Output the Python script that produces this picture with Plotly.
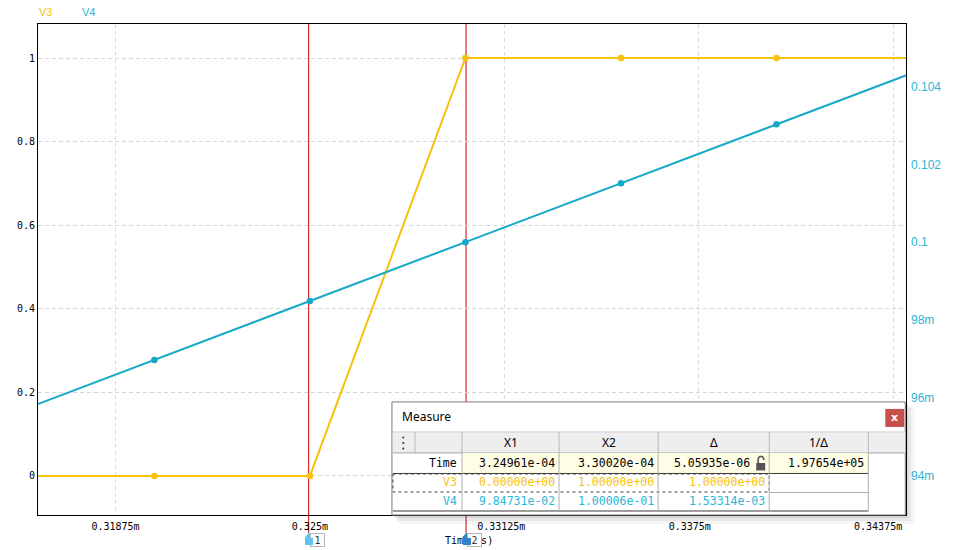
import plotly.graph_objects as go

# ---------------- data ----------------
time_s = [0.315e-3, 0.320e-3, 0.325e-3, 0.330e-3, 0.335e-3, 0.340e-3, 0.345e-3]
v3 = [0, 0, 0, 1, 1, 1, 1]
v4 = [0.0954545, 0.0969697, 0.0984848, 0.1000000, 0.1015152, 0.1030303, 0.1045455]

x_tickvals = [0.31875e-3, 0.325e-3, 0.33125e-3, 0.3375e-3, 0.34375e-3]
x_ticktext = ["0.31875m", "0.325m", "0.33125m\u00a0", "0.3375m\u00a0\u00a0\u00a0", "0.34375m\u00a0\u00a0\u00a0\u00a0\u00a0"]
y1_tickvals = [0, 0.2, 0.4, 0.6, 0.8, 1]
y1_ticktext = ["0", "0.2", "0.4", "0.6", "0.8", "1"]
y2_tickvals = [0.094, 0.096, 0.098, 0.100, 0.102, 0.104]
y2_ticktext = ["94m", "96m", "98m", "0.1", "0.102", "0.104"]

cursor_x = [3.24961e-4, 3.30020e-4]
cursor_labels = ["1", "2"]

meas_header = ["X1", "X2", "\u0394", "1/\u0394"]
meas_rows = ["Time", "V3", "V4"]
meas_time = ["3.24961e-04", "3.30020e-04", "5.05935e-06", "1.97654e+05"]
meas_v3 = ["0.00000e+00", "1.00000e+00", "1.00000e+00", ""]
meas_v4 = ["9.84731e-02", "1.00006e-01", "1.53314e-03", ""]

C_V3 = "#f7c10c"
C_V4 = "#15a9c8"
C_V4T = "#2ab6d8"
RED = "#cc0000"

# ---------------- geometry helpers (page pixel -> paper) ----------------
PL, PR, PT, PB = 38.3, 905.7, 24.3, 515.0
def fx(p):
    return (p - PL) / (PR - PL)
def fy(p):
    return (PB - p) / (PB - PT)

fig = go.Figure()
fig.add_trace(go.Scatter(x=time_s, y=v3, mode="lines+markers", name="V3",
                         line=dict(color=C_V3, width=2), marker=dict(color=C_V3, size=6.5),
                         yaxis="y"))
fig.add_trace(go.Scatter(x=time_s, y=v4, mode="lines+markers", name="V4",
                         line=dict(color=C_V4, width=2), marker=dict(color=C_V4, size=6.5),
                         yaxis="y2"))

shapes = []
annotations = []

# axis title (partly covered by the tag of cursor 2, as in the reference)
annotations.append(dict(x=fx(469), y=fy(540), xref="paper", yref="paper", text="Time (s)",
                        xanchor="center", yanchor="middle",
                        showarrow=False, font=dict(family="DejaVu Sans Mono", size=10, color="#000")))

# cursor lines and tags
tag_cols = ["#5ec4f4", "#2f82c6"]
for cx, lab, tc in zip(cursor_x, cursor_labels, tag_cols):
    shapes.append(dict(type="line", xref="x", yref="paper", x0=cx, x1=cx, y0=fy(533), y1=1,
                       line=dict(color=RED, width=1), layer="between"))
    # pointed top of the tag
    shapes.append(dict(type="path", xref="x", yref="paper", xsizemode="pixel", ysizemode="pixel",
                       xanchor=cx, yanchor=0,
                       path="M -3.5,-22.5 L 0.5,-18 L 4.5,-22.5 Z",
                       fillcolor=tc, line=dict(color=tc, width=1), layer="above"))
    # numbered box
    annotations.append(dict(x=cx, y=0, xref="x", yref="paper", xshift=8.5, yshift=-25,
                            xanchor="center", yanchor="middle", width=13, height=12,
                            bgcolor="white", bordercolor="#b4b4b4", borderwidth=1, borderpad=0,
                            text=lab, showarrow=False,
                            font=dict(family="DejaVu Sans Mono", size=10, color="#333333")))
    # tag body
    annotations.append(dict(x=cx, y=0, xref="x", yref="paper", xshift=0.5, yshift=-26,
                            xanchor="center", yanchor="middle", width=8, height=7,
                            bgcolor=tc, borderpad=0, borderwidth=0,
                            text="\u00a0", showarrow=False,
                            font=dict(family="DejaVu Sans Mono", size=4, color=tc)))

# legend-like labels
annotations.append(dict(x=fx(37.5), y=fy(12), xref="paper", yref="paper", text="V3",
                        xanchor="left", yanchor="middle",
                        showarrow=False, font=dict(family="Liberation Sans", size=11, color=C_V3)))
annotations.append(dict(x=fx(80), y=fy(12), xref="paper", yref="paper", text="V4",
                        xanchor="left", yanchor="middle",
                        showarrow=False, font=dict(family="Liberation Sans", size=11, color=C_V4T)))

def rect(x0, y0, x1, y1, fill, line=None, lw=1, dash=None):
    d = dict(type="rect", xref="paper", yref="paper", x0=fx(x0), x1=fx(x1), y0=fy(y0), y1=fy(y1),
             fillcolor=fill, layer="above",
             line=dict(color=line if line else "rgba(0,0,0,0)", width=lw if line else 0))
    if dash:
        d["line"]["dash"] = dash
    shapes.append(d)

def hline(x0, x1, y, color, lw=1, dash=None):
    d = dict(type="line", xref="paper", yref="paper", x0=fx(x0), x1=fx(x1), y0=fy(y), y1=fy(y),
             line=dict(color=color, width=lw), layer="above")
    if dash:
        d["line"]["dash"] = dash
    shapes.append(d)

def vline(x, y0, y1, color, lw=1):
    shapes.append(dict(type="line", xref="paper", yref="paper", x0=fx(x), x1=fx(x), y0=fy(y0), y1=fy(y1),
                       line=dict(color=color, width=lw), layer="above"))

def ptext(x, y, text, color="#000", size=11.5, family="DejaVu Sans Mono", anchor="right"):
    annotations.append(dict(x=fx(x), y=fy(y), xref="paper", yref="paper", text=text,
                            xanchor=anchor, yanchor="middle",
                            showarrow=False, font=dict(family=family, size=size, color=color)))

# ---------------- Measure window ----------------
WL, WR, WT, WB = 392, 905, 402, 515
rect(WL + 6, WT + 6, WR + 9, WB + 9, "rgba(0,0,0,0.04)")
rect(WL + 4, WT + 4, WR + 6, WB + 6, "rgba(0,0,0,0.05)")
rect(WL + 2, WT + 2, WR + 3, WB + 3, "rgba(0,0,0,0.07)")
rect(WL, WT, WR, WB, "white", line="#7a7a7a")
ptext(400, 417, "Measure", size=12, family="Noto Sans", anchor="left")
rect(885, 409, 904, 427, "#c8504b")
ptext(894.5, 417.5, "<b>x</b>", color="white", size=11, family="DejaVu Sans", anchor="center")

# header row
col_edges = [392, 415, 462, 559, 658, 769, 868, 905]
rect(393, 432, 905, 453, "#eeeeee")
hline(393, 905, 432, "#d0d0d0")
hline(393, 905, 453, "#a8a8a8")
for xe in col_edges[1:-1]:
    vline(xe, 432, 453, "#b8b8b8")
for i, h in enumerate(meas_header):
    cx = (col_edges[i + 2] + col_edges[i + 3]) / 2
    ptext(cx, 442.5, h, size=12, family="Noto Sans", anchor="center")
for dy in [437.5, 443, 448.5]:
    shapes.append(dict(type="circle", xref="paper", yref="paper", x0=fx(402.3), x1=fx(404.3),
                       y0=fy(dy - 1), y1=fy(dy + 1), fillcolor="#3a1f45",
                       line=dict(width=0), layer="above"))

# body
rect(462, 453, 868, 473, "#fffde6")
hline(393, 868, 473.5, "#3c3c3c")
rect(393, 474, 769, 492, "rgba(0,0,0,0)", line="#404040", dash="dot")
hline(769, 868, 492.5, "#b0b0b0")
hline(393, 868, 511, "#3c3c3c")
for xe in col_edges[2:7]:
    vline(xe, 453, 511, "#b0b0b0")

row_y = [463.5, 482.5, 501.5]
row_vals = [meas_time, meas_v3, meas_v4]
row_cols = ["#000000", C_V3, C_V4T]
for lab, yy, vals, colr in zip(meas_rows, row_y, row_vals, row_cols):
    ptext(459.5, yy, lab, color=colr)
    for j, v in enumerate(vals):
        if not v:
            continue
        right = col_edges[j + 3] - 2.5
        if lab == "Time" and j == 2:
            right = 751.5
        ptext(right, yy, v, color=colr)

# lock icon (unlocked) in delta cell
rect(756, 463, 765, 470.5, "#555555")
pts = [(758, 463), (758, 458.5), (759.5, 456.5), (762, 456.5), (763.5, 458.5), (763.5, 460)]
path = "M " + " L ".join(f"{fx(a):.5f},{fy(b):.5f}" for a, b in pts)
shapes.append(dict(type="path", xref="paper", yref="paper", path=path,
                   line=dict(color="#555555", width=1.6), layer="above"))

fig.update_layout(
    width=955, height=550,
    margin=dict(l=38, r=955 - 906, t=24, b=35),
    paper_bgcolor="white", plot_bgcolor="white",
    showlegend=False,
    xaxis=dict(range=[0.31626e-3, 0.344162e-3], tickvals=x_tickvals, ticktext=x_ticktext,
               showgrid=True, gridcolor="#dbe3cf", griddash="4px,3px", gridwidth=1,
               showline=True, linecolor="#000", linewidth=1, mirror=True, ticks="",
               ticklabelstandoff=2,
               zeroline=False, tickfont=dict(family="DejaVu Sans Mono", size=10, color="#000")),
    yaxis=dict(range=[-0.0934, 1.0814], tickvals=y1_tickvals, ticktext=y1_ticktext,
               showgrid=True, gridcolor="#d6d6d6", griddash="4px,3px", gridwidth=1,
               showline=True, linecolor="#000", linewidth=1, mirror=True, ticks="",
               zeroline=False, tickfont=dict(family="DejaVu Sans Mono", size=10, color="#000")),
    yaxis2=dict(range=[0.092979, 0.105613], tickvals=y2_tickvals, ticktext=y2_ticktext,
                overlaying="y", side="right", showgrid=False, zeroline=False, showline=False,
                ticks="", ticklabelstandoff=4,
                tickfont=dict(family="Liberation Sans", size=12, color=C_V4T)),
    shapes=shapes,
    annotations=annotations,
)

fig.write_html("out.html", config={"displayModeBar": False},
               post_script="document.body.style.margin='0';document.body.style.overflow='hidden';")
